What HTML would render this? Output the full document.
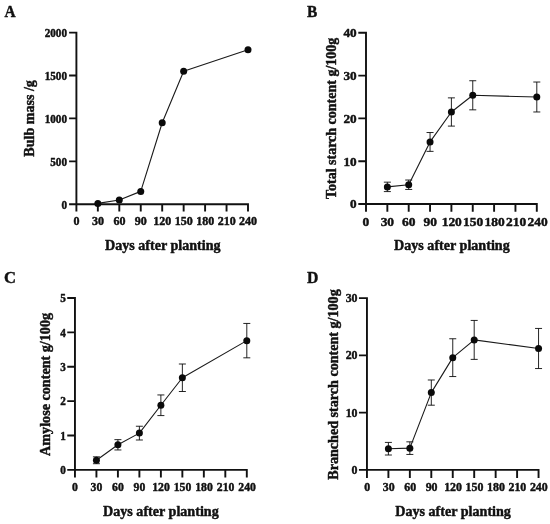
<!DOCTYPE html>
<html lang="en"><head><meta charset="utf-8"><title>Figure</title>
<style>
html,body{margin:0;padding:0;background:#fff;}
svg{display:block;filter:blur(0.35px);}
text{font-family:"Liberation Serif","Times New Roman",serif;font-weight:bold;fill:#111;stroke:#111;stroke-width:0.45px;stroke-linejoin:round;}
.t{font-size:11.3px;}
.l{font-size:14.1px;}
.p{font-size:15.5px;}
.ax{stroke:#111;stroke-width:1.9;fill:none;stroke-linecap:butt;}
.ln{stroke:#1a1a1a;stroke-width:1.1;fill:none;stroke-linejoin:round;}
.eb{stroke:#0c0c0c;stroke-width:0.9;fill:none;}
.m{fill:#0a0a0a;}
</style></head><body>
<svg width="550" height="524" viewBox="0 0 550 524">
<rect width="550" height="524" fill="#fff"/>

<g>
<text font-size="16.2" transform="translate(4.5 16.8) scale(0.95 1)">A</text>
<path class="ax" d="M76.4 31.65 V205.2 M69.1 204.25 H76.4 M69.1 161.34 H76.4 M69.1 118.42 H76.4 M69.1 75.51 H76.4 M69.1 32.6 H76.4 M75.45 204.25 H248.95 M76.4 204.25 V211.55 M97.85 204.25 V211.55 M119.3 204.25 V211.55 M140.75 204.25 V211.55 M162.2 204.25 V211.55 M183.65 204.25 V211.55 M205.1 204.25 V211.55 M226.55 204.25 V211.55 M248 204.25 V211.55"/>
<text font-size="12" text-anchor="end" transform="translate(67 208.71) scale(0.93 1)">0</text>
<text font-size="12" text-anchor="end" transform="translate(67 165.79) scale(0.93 1)">500</text>
<text font-size="12" text-anchor="end" transform="translate(67 122.88) scale(0.93 1)">1000</text>
<text font-size="12" text-anchor="end" transform="translate(67 79.97) scale(0.93 1)">1500</text>
<text font-size="12" text-anchor="end" transform="translate(67 37.06) scale(0.93 1)">2000</text>
<text font-size="12" text-anchor="middle" transform="translate(76.5 224.95) scale(1.0 1)">0</text>
<text font-size="12" text-anchor="middle" transform="translate(97.95 224.95) scale(1.0 1)">30</text>
<text font-size="12" text-anchor="middle" transform="translate(119.4 224.95) scale(1.0 1)">60</text>
<text font-size="12" text-anchor="middle" transform="translate(140.85 224.95) scale(1.0 1)">90</text>
<text font-size="12" text-anchor="middle" transform="translate(162.3 224.95) scale(1.0 1)">120</text>
<text font-size="12" text-anchor="middle" transform="translate(183.75 224.95) scale(1.0 1)">150</text>
<text font-size="12" text-anchor="middle" transform="translate(205.2 224.95) scale(1.0 1)">180</text>
<text font-size="12" text-anchor="middle" transform="translate(226.65 224.95) scale(1.0 1)">210</text>
<text font-size="12" text-anchor="middle" transform="translate(248.1 224.95) scale(1.0 1)">240</text>
<text class="l" text-anchor="middle" x="162.8" y="249.8">Days after planting</text>
<text font-size="14.05" text-anchor="middle" transform="translate(34.1 118.4) rotate(-90)">Bulb mass /g</text>
<polyline class="ln" points="97.85,203.39 119.3,199.96 140.75,191.38 162.2,122.72 183.65,71.22 248,49.77"/>
<circle class="m" cx="97.85" cy="203.39" r="3.5"/>
<circle class="m" cx="119.3" cy="199.96" r="3.5"/>
<circle class="m" cx="140.75" cy="191.38" r="3.5"/>
<circle class="m" cx="162.2" cy="122.72" r="3.5"/>
<circle class="m" cx="183.65" cy="71.22" r="3.5"/>
<circle class="m" cx="248" cy="49.77" r="3.5"/>
</g>
<g>
<text font-size="16.2" transform="translate(306.9 16.7) scale(0.95 1)">B</text>
<path class="ax" d="M366 31.85 V204.95 M358.3 204 H366 M358.3 161.2 H366 M358.3 118.4 H366 M358.3 75.6 H366 M358.3 32.8 H366 M365.05 204 H537.75 M366 204 V211.7 M387.35 204 V211.7 M408.7 204 V211.7 M430.05 204 V211.7 M451.4 204 V211.7 M472.75 204 V211.7 M494.1 204 V211.7 M515.45 204 V211.7 M536.8 204 V211.7"/>
<text font-size="12.1" text-anchor="end" transform="translate(356.6 208.49) scale(1.09 1)">0</text>
<text font-size="12.1" text-anchor="end" transform="translate(356.6 165.69) scale(1.09 1)">10</text>
<text font-size="12.1" text-anchor="end" transform="translate(356.6 122.89) scale(1.09 1)">20</text>
<text font-size="12.1" text-anchor="end" transform="translate(356.6 80.09) scale(1.09 1)">30</text>
<text font-size="12.1" text-anchor="end" transform="translate(356.6 37.29) scale(1.09 1)">40</text>
<text font-size="12.7" text-anchor="middle" transform="translate(365.9 225.5) scale(1.06 1)">0</text>
<text font-size="12.7" text-anchor="middle" transform="translate(387.36 225.5) scale(1.06 1)">30</text>
<text font-size="12.7" text-anchor="middle" transform="translate(408.82 225.5) scale(1.06 1)">60</text>
<text font-size="12.7" text-anchor="middle" transform="translate(430.29 225.5) scale(1.06 1)">90</text>
<text font-size="12.7" text-anchor="middle" transform="translate(451.75 225.5) scale(1.06 1)">120</text>
<text font-size="12.7" text-anchor="middle" transform="translate(473.21 225.5) scale(1.06 1)">150</text>
<text font-size="12.7" text-anchor="middle" transform="translate(494.67 225.5) scale(1.06 1)">180</text>
<text font-size="12.7" text-anchor="middle" transform="translate(516.14 225.5) scale(1.06 1)">210</text>
<text font-size="12.7" text-anchor="middle" transform="translate(537.6 225.5) scale(1.06 1)">240</text>
<text class="l" text-anchor="middle" x="451.9" y="249.8">Days after planting</text>
<text font-size="14" text-anchor="middle" transform="translate(336 118.4) rotate(-90)">Total starch content g/100g</text>
<path class="eb" d="M387.35 182.17 V191.59 M383.85 182.17 H390.85 M383.85 191.59 H390.85 M408.7 180.03 V189.45 M405.2 180.03 H412.2 M405.2 189.45 H412.2 M430.05 132.52 V151.36 M426.55 132.52 H433.55 M426.55 151.36 H433.55 M451.4 97.86 V126.1 M447.9 97.86 H454.9 M447.9 126.1 H454.9 M472.75 80.74 V109.84 M469.25 80.74 H476.25 M469.25 109.84 H476.25 M536.8 82.02 V111.98 M533.3 82.02 H540.3 M533.3 111.98 H540.3"/>
<polyline class="ln" points="387.35,186.88 408.7,184.74 430.05,141.94 451.4,111.98 472.75,95.29 536.8,97"/>
<circle class="m" cx="387.35" cy="186.88" r="3.5"/>
<circle class="m" cx="408.7" cy="184.74" r="3.5"/>
<circle class="m" cx="430.05" cy="141.94" r="3.5"/>
<circle class="m" cx="451.4" cy="111.98" r="3.5"/>
<circle class="m" cx="472.75" cy="95.29" r="3.5"/>
<circle class="m" cx="536.8" cy="97" r="3.5"/>
</g>
<g>
<text font-size="16.6" transform="translate(4.1 283) scale(1 1)">C</text>
<path class="ax" d="M74.95 297.05 V470.85 M67.25 469.9 H74.95 M67.25 435.52 H74.95 M67.25 401.14 H74.95 M67.25 366.76 H74.95 M67.25 332.38 H74.95 M67.25 298 H74.95 M74 469.9 H247.75 M74.95 469.9 V477.6 M96.43 469.9 V477.6 M117.91 469.9 V477.6 M139.39 469.9 V477.6 M160.88 469.9 V477.6 M182.36 469.9 V477.6 M203.84 469.9 V477.6 M225.32 469.9 V477.6 M246.8 469.9 V477.6"/>
<text font-size="12.2" text-anchor="end" transform="translate(65.75 474.02) scale(0.92 1)">0</text>
<text font-size="12.2" text-anchor="end" transform="translate(65.75 439.64) scale(0.92 1)">1</text>
<text font-size="12.2" text-anchor="end" transform="translate(65.75 405.26) scale(0.92 1)">2</text>
<text font-size="12.2" text-anchor="end" transform="translate(65.75 370.88) scale(0.92 1)">3</text>
<text font-size="12.2" text-anchor="end" transform="translate(65.75 336.5) scale(0.92 1)">4</text>
<text font-size="12.2" text-anchor="end" transform="translate(65.75 302.12) scale(0.92 1)">5</text>
<text font-size="12.4" text-anchor="middle" transform="translate(74.85 490.5) scale(0.945 1)">0</text>
<text font-size="12.4" text-anchor="middle" transform="translate(96.38 490.5) scale(0.945 1)">30</text>
<text font-size="12.4" text-anchor="middle" transform="translate(117.91 490.5) scale(0.945 1)">60</text>
<text font-size="12.4" text-anchor="middle" transform="translate(139.44 490.5) scale(0.945 1)">90</text>
<text font-size="12.4" text-anchor="middle" transform="translate(160.97 490.5) scale(0.945 1)">120</text>
<text font-size="12.4" text-anchor="middle" transform="translate(182.51 490.5) scale(0.945 1)">150</text>
<text font-size="12.4" text-anchor="middle" transform="translate(204.04 490.5) scale(0.945 1)">180</text>
<text font-size="12.4" text-anchor="middle" transform="translate(225.57 490.5) scale(0.945 1)">210</text>
<text font-size="12.4" text-anchor="middle" transform="translate(247.1 490.5) scale(0.945 1)">240</text>
<text class="l" text-anchor="middle" x="160.9" y="515.8">Days after planting</text>
<text font-size="14.15" text-anchor="middle" transform="translate(50.4 384.4) rotate(-90)">Amylose content g/100g</text>
<path class="eb" d="M96.43 456.84 V463.71 M92.93 456.84 H99.93 M92.93 463.71 H99.93 M117.91 439.65 V449.96 M114.41 439.65 H121.41 M114.41 449.96 H121.41 M139.39 426.24 V439.99 M135.89 426.24 H142.89 M135.89 439.99 H142.89 M160.88 394.95 V415.58 M157.38 394.95 H164.38 M157.38 415.58 H164.38 M182.36 364.01 V391.51 M178.86 364.01 H185.86 M178.86 391.51 H185.86 M246.8 323.44 V357.82 M243.3 323.44 H250.3 M243.3 357.82 H250.3"/>
<polyline class="ln" points="96.43,460.27 117.91,444.8 139.39,433.11 160.88,405.27 182.36,377.76 246.8,340.63"/>
<circle class="m" cx="96.43" cy="460.27" r="3.5"/>
<circle class="m" cx="117.91" cy="444.8" r="3.5"/>
<circle class="m" cx="139.39" cy="433.11" r="3.5"/>
<circle class="m" cx="160.88" cy="405.27" r="3.5"/>
<circle class="m" cx="182.36" cy="377.76" r="3.5"/>
<circle class="m" cx="246.8" cy="340.63" r="3.5"/>
</g>
<g>
<text font-size="16.6" transform="translate(306.9 283) scale(0.95 1)">D</text>
<path class="ax" d="M366.95 297.15 V470.85 M358.95 469.9 H366.95 M358.95 412.63 H366.95 M358.95 355.37 H366.95 M358.95 298.1 H366.95 M366 469.9 H539.5 M366.95 469.9 V477.9 M388.4 469.9 V477.9 M409.85 469.9 V477.9 M431.3 469.9 V477.9 M452.75 469.9 V477.9 M474.2 469.9 V477.9 M495.65 469.9 V477.9 M517.1 469.9 V477.9 M538.55 469.9 V477.9"/>
<text font-size="12.2" text-anchor="end" transform="translate(357.55 474.02) scale(0.975 1)">0</text>
<text font-size="12.2" text-anchor="end" transform="translate(357.55 416.76) scale(0.975 1)">10</text>
<text font-size="12.2" text-anchor="end" transform="translate(357.55 359.49) scale(0.975 1)">20</text>
<text font-size="12.2" text-anchor="end" transform="translate(357.55 302.22) scale(0.975 1)">30</text>
<text font-size="12.4" text-anchor="middle" transform="translate(367.25 490.5) scale(0.96 1)">0</text>
<text font-size="12.4" text-anchor="middle" transform="translate(388.7 490.5) scale(0.96 1)">30</text>
<text font-size="12.4" text-anchor="middle" transform="translate(410.15 490.5) scale(0.96 1)">60</text>
<text font-size="12.4" text-anchor="middle" transform="translate(431.6 490.5) scale(0.96 1)">90</text>
<text font-size="12.4" text-anchor="middle" transform="translate(453.05 490.5) scale(0.96 1)">120</text>
<text font-size="12.4" text-anchor="middle" transform="translate(474.5 490.5) scale(0.96 1)">150</text>
<text font-size="12.4" text-anchor="middle" transform="translate(495.95 490.5) scale(0.96 1)">180</text>
<text font-size="12.4" text-anchor="middle" transform="translate(517.4 490.5) scale(0.96 1)">210</text>
<text font-size="12.4" text-anchor="middle" transform="translate(538.85 490.5) scale(0.96 1)">240</text>
<text class="l" text-anchor="middle" x="453.1" y="515.8">Days after planting</text>
<text font-size="14.1" text-anchor="middle" transform="translate(337.5 384.5) rotate(-90)">Branched starch content g/100g</text>
<path class="eb" d="M388.4 442.41 V455.01 M384.9 442.41 H391.9 M384.9 455.01 H391.9 M409.85 441.84 V454.44 M406.35 441.84 H413.35 M406.35 454.44 H413.35 M431.3 379.99 V405.19 M427.8 379.99 H434.8 M427.8 405.19 H434.8 M452.75 338.76 V376.56 M449.25 338.76 H456.25 M449.25 376.56 H456.25 M474.2 320.43 V359.38 M470.7 320.43 H477.7 M470.7 359.38 H477.7 M538.55 328.45 V368.54 M535.05 328.45 H542.05 M535.05 368.54 H542.05"/>
<polyline class="ln" points="388.4,448.71 409.85,448.14 431.3,392.59 452.75,357.66 474.2,339.9 538.55,348.49"/>
<circle class="m" cx="388.4" cy="448.71" r="3.5"/>
<circle class="m" cx="409.85" cy="448.14" r="3.5"/>
<circle class="m" cx="431.3" cy="392.59" r="3.5"/>
<circle class="m" cx="452.75" cy="357.66" r="3.5"/>
<circle class="m" cx="474.2" cy="339.9" r="3.5"/>
<circle class="m" cx="538.55" cy="348.49" r="3.5"/>
</g>
</svg>
</body></html>
